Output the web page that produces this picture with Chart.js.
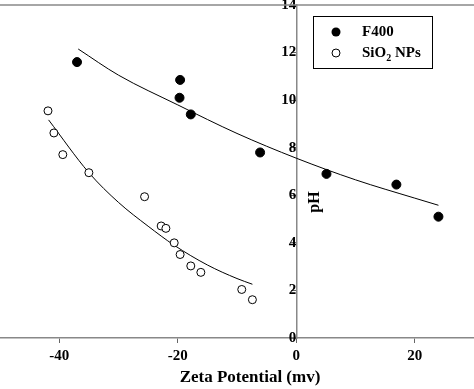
<!DOCTYPE html>
<html>
<head>
<meta charset="utf-8">
<script src="https://cdn.jsdelivr.net/npm/chart.js@4.4.1/dist/chart.umd.min.js"></script>
<style>
body { margin: 0; background: #fff; }
</style>
</head>
<body>
<canvas id="zeta" width="474" height="389"></canvas>
<script>
var seriesNames = ["F400", "SiO2 NPs"];

var f400Zeta = [-37.0, -19.6, -19.7, -17.8, -6.1, 5.1, 16.9, 24.0];
var f400PH = [11.6, 10.85, 10.1, 9.4, 7.8, 6.9, 6.45, 5.1];

var sioZeta = [-41.9, -40.9, -39.4, -35.0, -25.6, -22.8, -22.0, -20.6, -19.6, -17.8, -16.1, -9.2, -7.4];
var sioPH = [9.55, 8.62, 7.71, 6.95, 5.94, 4.71, 4.61, 4.0, 3.51, 3.03, 2.76, 2.04, 1.61];

// fitted curves
var f400FitZeta = [-36.8, -30, -20, -10, 0, 10, 20, 24];
var f400FitPH = [12.15, 11.05, 9.8, 8.6, 7.56, 6.65, 5.88, 5.58];
var sioFitZeta = [-41.8, -35, -30, -25, -20.6, -15, -10, -7.4];
var sioFitPH = [9.17, 6.95, 5.7, 4.7, 3.9, 3.07, 2.5, 2.26];

var xTicks = [-40, -20, 0, 20];
var yTicks = [0, 2, 4, 6, 8, 10, 12, 14];

var serif = "'Liberation Serif', 'Times New Roman', serif";

function pairs(xs, ys) {
    var out = [];
    for (var i = 0; i < xs.length; i++) {
        out.push({ x: xs[i], y: ys[i] });
    }
    return out;
}

// no extra room for the end labels, the plot runs edge to edge
function noPad(scale) {
    scale.paddingLeft = 0;
    scale.paddingRight = 0;
    scale.paddingTop = 0;
    scale.paddingBottom = 0;
}

// frame line on top, axis titles and the boxed legend
var decor = {
    id: 'decor',
    beforeDatasetsDraw: function (chart) {
        var c = chart.ctx, ca = chart.chartArea;
        c.save();
        c.strokeStyle = '#888';
        c.lineWidth = 1.5;
        c.beginPath();
        c.moveTo(0, ca.top);
        c.lineTo(chart.width, ca.top);
        c.stroke();
        c.restore();
    },
    afterDraw: function (chart) {
        var c = chart.ctx;
        c.save();
        c.fillStyle = '#000';

        c.font = 'bold 17px ' + serif;
        c.textAlign = 'center';
        c.textBaseline = 'middle';
        c.fillText('Zeta Potential (mv)', 250, 378);

        c.save();
        c.translate(315, 202);
        c.rotate(-Math.PI / 2);
        c.font = 'bold 16px ' + serif;
        c.fillText('pH', 0, 0);
        c.restore();

        // legend
        c.strokeStyle = '#000';
        c.lineWidth = 1;
        c.strokeRect(313.5, 16.5, 119, 52);

        c.beginPath();
        c.arc(336, 32, 4.5, 0, Math.PI * 2);
        c.fill();

        c.beginPath();
        c.arc(336, 53, 4, 0, Math.PI * 2);
        c.fillStyle = '#fff';
        c.fill();
        c.stroke();

        c.fillStyle = '#000';
        c.textAlign = 'left';
        c.font = 'bold 15px ' + serif;
        c.fillText(seriesNames[0], 362, 32);

        // "SiO2 NPs" with the 2 as subscript
        var name = seriesNames[1];
        var head = name.slice(0, 3), sub = name.slice(3, 4), tail = name.slice(4);
        var x = 362;
        c.fillText(head, x, 53);
        x += c.measureText(head).width;
        c.font = 'bold 10px ' + serif;
        c.fillText(sub, x, 58);
        x += c.measureText(sub).width;
        c.font = 'bold 15px ' + serif;
        c.fillText(tail, x, 53);

        c.restore();
    }
};

var ctx = document.getElementById('zeta').getContext('2d');

new Chart(ctx, {
    type: 'scatter',
    data: {
        datasets: [
            {
                label: seriesNames[0],
                data: pairs(f400Zeta, f400PH),
                pointRadius: 4.5,
                backgroundColor: '#000',
                borderColor: '#000',
                borderWidth: 1,
                order: 1
            },
            {
                label: seriesNames[1],
                data: pairs(sioZeta, sioPH),
                pointRadius: 4,
                backgroundColor: '#fff',
                borderColor: '#000',
                borderWidth: 1,
                order: 1
            },
            {
                label: seriesNames[0] + ' fit',
                data: pairs(f400FitZeta, f400FitPH),
                showLine: true,
                pointRadius: 0,
                borderColor: '#000',
                borderWidth: 1,
                cubicInterpolationMode: 'monotone',
                fill: false,
                order: 2
            },
            {
                label: seriesNames[1] + ' fit',
                data: pairs(sioFitZeta, sioFitPH),
                showLine: true,
                pointRadius: 0,
                borderColor: '#000',
                borderWidth: 1,
                cubicInterpolationMode: 'monotone',
                fill: false,
                order: 2
            }
        ]
    },
    options: {
        responsive: false,
        animation: false,
        layout: {
            autoPadding: false,
            padding: { top: 5, bottom: 20, left: 0, right: 0 }
        },
        plugins: {
            legend: { display: false },
            tooltip: { enabled: false }
        },
        scales: {
            x: {
                type: 'linear',
                position: 'bottom',
                min: -50,
                max: 30,
                afterBuildTicks: function (scale) {
                    scale.ticks = xTicks.map(function (v) { return { value: v }; });
                },
                afterFit: noPad,
                grid: {
                    drawOnChartArea: false,
                    tickLength: 5,
                    color: '#666'
                },
                border: { display: true, color: '#888', width: 1.5 },
                ticks: {
                    color: '#000',
                    padding: 4,
                    font: { family: serif, size: 15, weight: 'bold' }
                }
            },
            y: {
                type: 'linear',
                position: { x: 0 },
                min: 0,
                max: 14,
                afterBuildTicks: function (scale) {
                    scale.ticks = yTicks.map(function (v) { return { value: v }; });
                },
                afterFit: noPad,
                grid: {
                    drawOnChartArea: false,
                    tickLength: 5,
                    color: '#666'
                },
                border: { display: true, color: '#888', width: 1.5 },
                ticks: {
                    color: '#000',
                    padding: 6,
                    font: { family: serif, size: 15, weight: 'bold' }
                }
            }
        }
    },
    plugins: [decor]
});
</script>
</body>
</html>
